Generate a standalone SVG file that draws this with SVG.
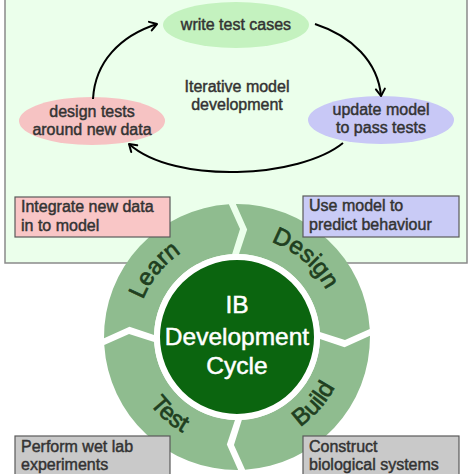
<svg xmlns="http://www.w3.org/2000/svg" xmlns:xlink="http://www.w3.org/1999/xlink" width="474" height="474" viewBox="0 0 474 474">
<style>
.t { font-family: "Liberation Sans", Arial, sans-serif; font-size: 16px; fill: #333333; stroke: #333333; stroke-width: 0.45; }
.m { text-anchor: middle; }
.box { stroke: #5a5a5a; stroke-width: 1.2; }
.arrow { fill: none; stroke: #000000; stroke-width: 2; marker-end: url(#head); }
.seg { fill: #8fbc8f; }
.rl { font-family: "Liberation Sans", Arial, sans-serif; font-size: 24px; fill: #203f20; stroke: #203f20; stroke-width: 0.7; }
.ct { font-family: "Liberation Sans", Arial, sans-serif; font-size: 24.5px; fill: #ffffff; stroke: #ffffff; stroke-width: 0.5; text-anchor: middle; }
</style>
<defs>
<marker id="head" viewBox="-9 -6 11 12" markerWidth="11" markerHeight="12" refX="0" refY="0" orient="auto" markerUnits="userSpaceOnUse">
<path d="M -7 -4.5 L 0 0 L -7 4.5" fill="none" stroke="#000000" stroke-width="2" stroke-linecap="round" stroke-linejoin="round"/>
</marker>
<path id="segshape" d="M 235.84 204.01 A 133 133 0 0 1 369.75 328.88 L 344.96 340.02 L 319.85 332.08 A 83 83 0 0 0 239.03 254.02 L 247.16 229.48 Z"/>
<path id="arcDesign" d="M 238.76 236.02 A 101 101 0 0 1 336.76 321.20"/>
<path id="arcLearn" d="M 136.02 338.76 A 101 101 0 0 1 217.73 237.86"/>
<path id="arcBuild" d="M 254.21 445.65 A 110 110 0 0 0 346.98 338.92"/>
<path id="arcTest" d="M 128.35 354.21 A 110 110 0 0 0 235.08 446.98"/>
</defs>

<rect id="panel" x="5" y="-5" width="462" height="268" fill="#ebffeb" stroke="#8a8a8a" stroke-width="1.5"/>

<g id="write-test-cases">
<ellipse cx="236" cy="25" rx="73" ry="23" fill="#c4f2bf"/>
<text class="t m" x="236" y="30">write test cases</text>
</g>
<g id="design-tests">
<ellipse cx="92" cy="121" rx="73" ry="24" fill="#f6c3c3"/>
<text class="t m" x="92" y="117">design tests</text>
<text class="t m" x="92" y="135">around new data</text>
</g>
<g id="update-model">
<ellipse cx="381" cy="120" rx="73" ry="24" fill="#c8c8f6"/>
<text class="t m" x="381" y="115">update model</text>
<text class="t m" x="381" y="133">to pass tests</text>
</g>
<g id="iterative-label">
<text class="t m" x="237" y="92">Iterative model</text>
<text class="t m" x="237" y="110">development</text>
</g>

<g id="connectors">
<path class="arrow" d="M 93 99 C 95 62, 120 36, 157 24"/>
<path class="arrow" d="M 315 24 C 352 36, 378 62, 381 96"/>
<path class="arrow" d="M 343 143 C 300 178, 175 185, 129 144"/>
</g>

<g id="ring">
<g id="design-seg">
<use xlink:href="#segshape" class="seg"/>
<text class="rl"><textPath xlink:href="#arcDesign" startOffset="50%" text-anchor="middle">Design</textPath></text>
</g>
<g id="build-seg">
<use xlink:href="#segshape" class="seg" transform="rotate(90 237 337)"/>
<text class="rl"><textPath xlink:href="#arcBuild" startOffset="50%" text-anchor="middle">Build</textPath></text>
</g>
<g id="test-seg">
<use xlink:href="#segshape" class="seg" transform="rotate(180 237 337)"/>
<text class="rl"><textPath xlink:href="#arcTest" startOffset="50%" text-anchor="middle">Test</textPath></text>
</g>
<g id="learn-seg">
<use xlink:href="#segshape" class="seg" transform="rotate(270 237 337)"/>
<text class="rl"><textPath xlink:href="#arcLearn" startOffset="50%" text-anchor="middle">Learn</textPath></text>
</g>
</g>

<g id="center">
<circle cx="237" cy="337" r="80" fill="#0b650f" stroke="#ffffff" stroke-width="6"/>
<text class="ct" x="237" y="313">IB</text>
<text class="ct" x="237" y="345">Development</text>
<text class="ct" x="237" y="374">Cycle</text>
</g>

<g id="integrate-box">
<rect class="box" x="15" y="197" width="155" height="40" fill="#f9c6c6"/>
<text class="t" x="21" y="212">Integrate new data</text>
<text class="t" x="21" y="231">in to model</text>
</g>
<g id="use-model-box">
<rect class="box" x="303" y="196" width="156" height="41" fill="#c9cbf6"/>
<text class="t" x="309" y="211">Use model to</text>
<text class="t" x="309" y="230">predict behaviour</text>
</g>
<g id="perform-box">
<rect class="box" x="15" y="436" width="155" height="45" fill="#c9c9c9"/>
<text class="t" x="21" y="452">Perform wet lab</text>
<text class="t" x="21" y="470">experiments</text>
</g>
<g id="construct-box">
<rect class="box" x="303" y="436" width="156" height="45" fill="#c9c9c9"/>
<text class="t" x="309" y="452">Construct</text>
<text class="t" x="309" y="470">biological systems</text>
</g>
</svg>
